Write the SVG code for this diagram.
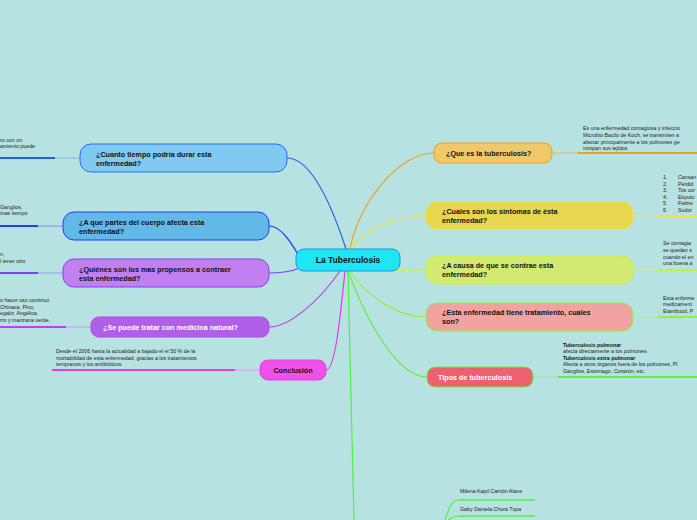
<svg xmlns="http://www.w3.org/2000/svg" width="697" height="520" viewBox="0 0 697 520">
<style>
text{font-family:"Liberation Sans",Arial,sans-serif}
.t{font-size:7.2px;font-weight:bold;fill:#111}
.w{font-size:7.2px;font-weight:bold;fill:#fff}
.s{font-size:5.3px;fill:#222}
.sb{font-size:5.3px;fill:#111;font-weight:bold}
.c{fill:none;stroke-width:1.2}
</style>
<rect width="697" height="520" fill="#b6e3e1"/>
<g id="connectors">
<path class="c" stroke="#f0a020" d="M350 249 C360 200 400 153 434 153"/>
<path class="c" stroke="#f0e040" d="M350 249 C370 225 400 216 426 216"/>
<path class="c" stroke="#c8f040" d="M352 270 C380 272 400 270 426 270"/>
<path class="c" stroke="#90f040" d="M350 271 C370 300 400 317 426 317"/>
<path class="c" stroke="#60f040" d="M348 271 C370 330 400 377 427 377"/>
<path class="c" stroke="#50f040" d="M348 271 C350 350 352 450 354 520"/>
<path class="c" stroke="#2060f0" d="M346 249 C330 200 310 158 287 158"/>
<path class="c" stroke="#2040f0" d="M300 258 C290 240 280 226 269 226"/>
<path class="c" stroke="#8040f0" d="M300 268 C290 272 280 273 269 273"/>
<path class="c" stroke="#c040f0" d="M340 271 C320 300 290 327 269 327"/>
<path class="c" stroke="#e040e0" d="M345 271 C340 320 335 370 326 370"/>
<path class="c" stroke="#50f040" d="M445 520 C450 505 452 500 460 500"/>
<path class="c" stroke="#50f040" d="M448 520 C452 517 455 516 460 516"/>
<!-- lines under text -->
<path stroke="#f0b060" stroke-width="1" d="M552 153H578"/><path stroke="#f0a020" stroke-width="2" d="M578 153H697"/>
<path stroke="#f0e880" stroke-width="1" d="M633 216H658"/><path stroke="#f0e040" stroke-width="2" d="M658 216H697"/>
<path stroke="#d8f080" stroke-width="1" d="M633 270H658"/><path stroke="#c8f040" stroke-width="2" d="M658 270H697"/>
<path stroke="#b0f080" stroke-width="1" d="M633 317H658"/><path stroke="#90f040" stroke-width="2" d="M658 317H697"/>
<path stroke="#90f080" stroke-width="1" d="M533 377H558"/><path stroke="#60f040" stroke-width="2" d="M558 377H697"/>
<path stroke="#50f040" stroke-width="1.5" d="M460 500H535"/>
<path stroke="#50f040" stroke-width="1.5" d="M460 516H535"/>
<path stroke="#80b0f0" stroke-width="1" d="M55 158H80"/><path stroke="#2060f0" stroke-width="2" d="M0 158H55"/>
<path stroke="#8090f0" stroke-width="1" d="M38 226H63"/><path stroke="#2040f0" stroke-width="2" d="M0 226H38"/>
<path stroke="#a090f0" stroke-width="1" d="M38 273H63"/><path stroke="#8040f0" stroke-width="2" d="M0 273H38"/>
<path stroke="#d090f0" stroke-width="1" d="M66 327H91"/><path stroke="#c040f0" stroke-width="2" d="M0 327H66"/>
<path stroke="#f090f0" stroke-width="1" d="M235 370H260"/><path stroke="#e040e0" stroke-width="2" d="M52 370H235"/>
</g>
<g id="center"><rect x="296" y="249" width="104" height="22" rx="8" fill="#1ee6f2" stroke="#2090f0"/><text x="348" y="263" text-anchor="middle" style="font-size:8.5px;font-weight:bold;fill:#111">La Tuberculosis</text></g>
<g id="n1"><rect x="434" y="143" width="118" height="20" rx="8" fill="#efc96b" stroke="#f0a020"/><text class="t" x="446" y="156">¿Que es la tuberculosis?</text>
<text class="s" x="583" y="130">Es una enfermedad contagiosa y infeccio</text><text class="s" x="583" y="137">Microbio Bacilo de Koch, se transmiten a</text><text class="s" x="583" y="144">afectar principalmente a los pulmones ge</text><text class="s" x="583" y="150">rompan sus tejidos</text></g>
<g id="n2"><rect x="426" y="202" width="207" height="27" rx="11" fill="#e8d650" stroke="#f0e040"/><text class="t" x="442" y="214">¿Cuales son los síntomas de ésta</text><text class="t" x="442" y="223">enfermedad?</text>
<text class="s" x="663" y="179">1.</text><text class="s" x="678" y="179">Cansan</text><text class="s" x="663" y="186">2.</text><text class="s" x="678" y="186">Pérdid</text><text class="s" x="663" y="192">3.</text><text class="s" x="678" y="192">Tos cor</text><text class="s" x="663" y="199">4.</text><text class="s" x="678" y="199">Esputo</text><text class="s" x="663" y="205">5.</text><text class="s" x="678" y="205">Fiebre</text><text class="s" x="663" y="212">6.</text><text class="s" x="678" y="212">Sudor</text></g>
<g id="n3"><rect x="426" y="256" width="207" height="28" rx="11" fill="#d3ea72" stroke="#c8f040"/><text class="t" x="442" y="268">¿A causa de que se contrae esta</text><text class="t" x="442" y="277">enfermedad?</text>
<text class="s" x="663" y="245">Se contagia</text><text class="s" x="663" y="252">se quedan s</text><text class="s" x="663" y="259">cuando el en</text><text class="s" x="663" y="265">una buena a</text></g>
<g id="n4"><rect x="426" y="303" width="207" height="28" rx="11" fill="#f0a3a0" stroke="#90f040"/><text class="t" x="442" y="315">¿Esta enfermedad tiene tratamiento, cuales</text><text class="t" x="442" y="324">son?</text>
<text class="s" x="663" y="300">Esta enferme</text><text class="s" x="663" y="306">medicament</text><text class="s" x="663" y="313">Etambutol, P</text></g>
<g id="n5"><rect x="427" y="367" width="106" height="20" rx="8" fill="#ee6070" stroke="#60f040"/><text class="w" x="438" y="380">Tipos de tuberculosis</text>
<text class="sb" x="563" y="347">Tuberculosis pulmonar</text><text class="s" x="563" y="353">afecta directamente a los pulmones</text><text class="sb" x="563" y="360">Tuberculosis extra pulmonar</text><text class="s" x="563" y="366">Afecta a otros órganos fuera de los pulmones, Pl</text><text class="s" x="563" y="373">Ganglios, Estomago, Corazón, etc.</text></g>
<g id="n6"><text class="s" x="460" y="493">Milena Kajol Carrión Alave</text><text class="s" x="460" y="511">Gaby Daniela Chura Tupa</text></g>
<g id="n7"><rect x="80" y="144" width="207" height="28" rx="11" fill="#80c9f0" stroke="#2070f0"/><text class="t" x="96" y="157">¿Cuanto tiempo podría durar esta</text><text class="t" x="96" y="166">enfermedad?</text>
<text class="s" x="0" y="142">ro con un</text><text class="s" x="0" y="148">amiento puede</text></g>
<g id="n8"><rect x="63" y="212" width="206" height="28" rx="11" fill="#62b8e6" stroke="#2040f0"/><text class="t" x="79" y="225">¿A que partes del cuerpo afecta esta</text><text class="t" x="79" y="234">enfermedad?</text>
<text class="s" x="0" y="209">Ganglios,</text><text class="s" x="0" y="215">mas tiempo</text></g>
<g id="n9"><rect x="63" y="259" width="206" height="28" rx="11" fill="#c080f0" stroke="#8040f0"/><text class="t" x="79" y="272">¿Quiénes son los mas propensos a contraer</text><text class="t" x="79" y="281">esta enfermedad?</text>
<text class="s" x="0" y="256">n,</text><text class="s" x="0" y="263">l tener otro</text></g>
<g id="n10"><rect x="91" y="317" width="178" height="20" rx="8" fill="#b060e8" stroke="#c040f0"/><text class="w" x="103" y="330">¿Se puede tratar con medicina natural?</text>
<text class="s" x="0" y="302">o hacer  uso continuo</text><text class="s" x="0" y="309">Chinaca, Pino,</text><text class="s" x="0" y="315">egaliz, Angélica,</text><text class="s" x="0" y="322">rro y manzana verde.</text></g>
<g id="n11"><rect x="260" y="360" width="66" height="20" rx="8" fill="#f050e8" stroke="#e040e0"/><text class="t" x="293" y="373" text-anchor="middle">Conclusión</text>
<text class="s" x="56" y="353">Desde el 2006  hasta la actualidad a bajado el el 50  % de la</text><text class="s" x="56" y="360">mortabilidad de esta enfermedad, gracias a los tratamientos</text><text class="s" x="56" y="366">tempranos y los antibióticos.</text></g>
</svg>
